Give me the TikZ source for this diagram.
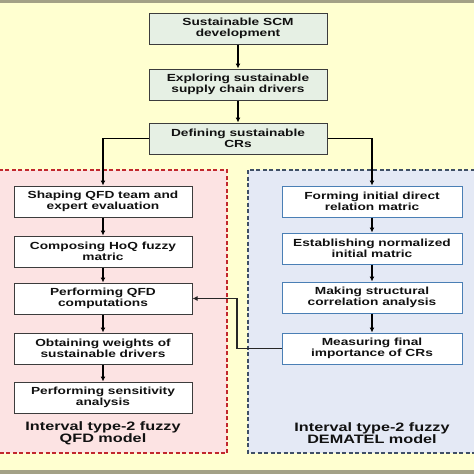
\documentclass[tikz,border=0pt]{standalone}
\usepackage{fontspec}
\newfontfamily\boxfont[FakeStretch=1.33]{Liberation Sans}
\usetikzlibrary{arrows.meta}
\definecolor{yellowbg}{HTML}{FFFFD0}
\definecolor{band}{HTML}{A3A186}
\definecolor{redfill}{HTML}{FCE3E3}
\definecolor{reddash}{HTML}{C1272D}
\definecolor{bluefill}{HTML}{E4E9F5}
\definecolor{bluedash}{HTML}{3F4F66}
\definecolor{greenfill}{HTML}{E6F0E4}
\definecolor{boxborder}{HTML}{3C3C3C}
\definecolor{blueborder}{HTML}{4A7FB5}
\definecolor{txt}{HTML}{111111}
\tikzset{
  basebox/.style={rectangle, inner sep=0pt, minimum height=31pt, align=center,
    text=txt, line width=1pt,
    font=\boxfont\bfseries\fontsize{10.3}{10.8}\selectfont},
  topbox/.style={basebox, draw=boxborder, fill=greenfill, minimum width=178pt},
  leftbox/.style={basebox, draw=boxborder, fill=white, minimum width=178pt},
  rightbox/.style={basebox, draw=blueborder, fill=white, minimum width=180pt},
  arr/.style={draw=black, line width=1.15pt, -{Latex[length=5pt,width=5pt]}},
  fbline/.style={draw=black!85, line width=1.15pt, -{Latex[length=5pt,width=5pt]}},
  modellabel/.style={align=center, text=txt, inner sep=0pt,
    font=\boxfont\bfseries\fontsize{12.2}{12.4}\selectfont},
  region/.style={line width=1.3pt, dash pattern=on 4pt off 2.5pt}
}
\begin{document}
\begin{tikzpicture}[x=1pt,y=-1pt]
\useasboundingbox (0,0) rectangle (474,474);
% background
\fill[yellowbg] (0,0) rectangle (474,474);
\fill[band] (0,0) rectangle (474,2.5);
\fill[band] (0,470) rectangle (474,474);
% regions
\draw[region, draw=reddash, fill=redfill] (-3,170) rectangle (227,453);
\draw[region, draw=bluedash, fill=bluefill] (248,170) rectangle (478,453);
% top boxes
\node[topbox] (t1) at (238,28.5) {Sustainable SCM\\development};
\node[topbox] (t2) at (238,84.5) {Exploring sustainable\\supply chain drivers};
\node[topbox] (t3) at (238,138.5) {Defining sustainable\\CRs};
% left boxes
\node[leftbox] (l1) at (103,201.5) {Shaping QFD team and\\expert evaluation};
\node[leftbox] (l2) at (103,251.5) {Composing HoQ fuzzy\\matric};
\node[leftbox] (l3) at (103,298.5) {Performing QFD\\computations};
\node[leftbox] (l4) at (103,348.5) {Obtaining weights of\\sustainable drivers};
\node[leftbox] (l5) at (103,397.5) {Performing sensitivity\\analysis};
% right boxes
\node[rightbox] (r1) at (372,201.5) {Forming initial direct\\relation matric};
\node[rightbox] (r2) at (372,248.5) {Establishing normalized\\initial matric};
\node[rightbox] (r3) at (372,297.5) {Making structural\\correlation analysis};
\node[rightbox] (r4) at (372,348.5) {Measuring final\\importance of CRs};
% labels
\node[modellabel] (ql) at (103,433) {Interval type-2 fuzzy\\QFD model};
\node[modellabel] (dl) at (372,433) {Interval type-2 fuzzy\\DEMATEL model};
% connectors
\draw[arr] (t1) -- (t2);
\draw[arr] (t2) -- (t3);
\draw[arr] (t3.west) -| (l1.north);
\draw[arr] (t3.east) -| (r1.north);
\draw[arr] (l1) -- (l2);
\draw[arr] (l2) -- (l3);
\draw[arr] (l3) -- (l4);
\draw[arr] (l4) -- (l5);
\draw[arr] (r1) -- (r2);
\draw[arr] (r2) -- (r3);
\draw[arr] (r3) -- (r4);
\coordinate (fb) at (237,348.5);
\draw[fbline] (r4.west) -- (fb) |- (l3.east);
\end{tikzpicture}
\end{document}
